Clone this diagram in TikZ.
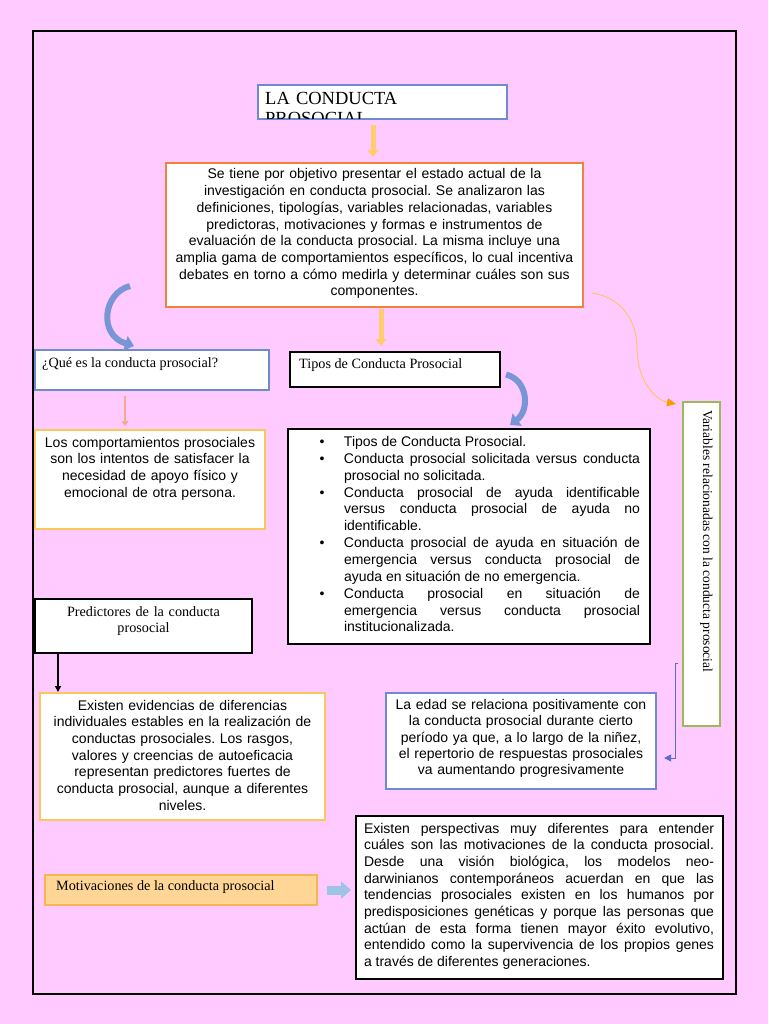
\documentclass[tikz,border=0pt]{standalone}
\usepackage{fontspec}
\newfontfamily\arial{Liberation Sans}
\newfontfamily\tnr{Liberation Serif}
\usetikzlibrary{arrows.meta,calc}
\frenchspacing
\definecolor{bgpink}{RGB}{255,202,255}
\definecolor{bluebd}{RGB}{110,140,205}
\definecolor{orangebd}{RGB}{240,130,60}
\definecolor{goldbd}{RGB}{250,200,90}
\definecolor{greenbd}{RGB}{155,187,89}
\definecolor{motfill}{RGB}{255,214,150}
\definecolor{motbd}{RGB}{248,180,80}
\definecolor{yarrc}{RGB}{255,205,110}
\definecolor{barrc}{RGB}{120,150,215}
\definecolor{sarrc}{RGB}{244,170,140}
\definecolor{thinorange}{RGB}{255,195,80}
\definecolor{linkblue}{RGB}{90,110,200}
\definecolor{lightblue}{RGB}{157,195,230}
\newcommand{\bitem}{\noindent\llap{\textbullet\hspace{19.5pt}}}
\begin{document}
\begin{tikzpicture}[x=1pt,y=-1pt,
  box/.style={draw, fill=white, line width=1.2pt, anchor=north west, inner sep=0pt, outer sep=0pt},
  sans/.style={font=\arial\frenchspacing\fontsize{14}{16.7}\selectfont, inner sep=0pt, anchor=base},
  serif/.style={font=\tnr\fontsize{14.2}{16.5}\selectfont, inner sep=0pt},
  yarr/.style={draw=yarrc, line width=5pt, -{Triangle[length=7pt,width=11pt]}},
  barr/.style={draw=barrc, line width=6pt, -{Triangle[length=9pt,width=15pt]}},
  sarr/.style={draw=sarrc, line width=2.5pt, -{Triangle[length=5pt,width=7pt]}},
  thinarr/.style={draw=thinorange, line width=0.8pt, -{Triangle[length=9pt,width=8pt,color=orange!80!yellow]}},
  linkarr/.style={draw=linkblue, line width=1pt, -{Triangle[length=7pt,width=7pt]}},
  karr/.style={draw=black, line width=1.8pt, -{Triangle[length=6pt,width=6pt]}},
  rarr/.style={draw=lightblue, line width=9pt, -{Triangle[length=10pt,width=17pt]}}
]
\fill[bgpink] (0,0) rectangle (768,1024);
\useasboundingbox (0,0) rectangle (768,1024);
\draw[line width=2pt] (33,31) rectangle (736,994);

% boxes
\node[box, draw=bluebd, minimum width=249pt, minimum height=34pt] (title) at (258,85) {};
\node[box, draw=orangebd, minimum width=417pt, minimum height=144pt] (main) at (166,163) {};
\node[box, draw=bluebd, minimum width=234pt, minimum height=40pt] (q) at (35,350) {};
\node[box, draw=black, minimum width=210pt, minimum height=35pt] (tipos) at (290,352) {};
\node[box, draw=goldbd, minimum width=230pt, minimum height=99pt] (los) at (35,430) {};
\node[box, draw=black, minimum width=362pt, minimum height=215pt] (bul) at (288,429) {};
\node[box, draw=greenbd, minimum width=37pt, minimum height=324pt] (var) at (683,402) {};
\node[box, draw=black, minimum width=217pt, minimum height=54pt] (pred) at (35,599) {};
\node[box, draw=goldbd, minimum width=285pt, minimum height=127pt] (ex) at (40,693) {};
\node[box, draw=bluebd, minimum width=270pt, minimum height=96pt] (edad) at (386,693) {};
\node[box, draw=motbd, fill=motfill, minimum width=272pt, minimum height=30pt] (mot) at (45,875) {};
\node[box, draw=black, minimum width=367pt, minimum height=163pt] (per) at (356,816) {};

% texts
\begin{scope}
\clip (title.north west) rectangle (title.south east);
\node[font=\tnr\fontsize{18.5}{20}\selectfont, inner sep=0pt, anchor=base west, text width=230pt, align=left] (titlet) at (265,105) {LA CONDUCTA\\PROSOCIAL};
\end{scope}

\node[sans, text width=412pt, align=center] (maint) at (374.5,179) {Se tiene por objetivo presentar el estado actual de la\\investigación en conducta prosocial. Se analizaron las\\definiciones, tipologías, variables relacionadas, variables\\predictoras, motivaciones y formas e instrumentos de\\evaluación de la conducta prosocial. La misma incluye una\\amplia gama de comportamientos específicos, lo cual incentiva\\debates en torno a cómo medirla y determinar cuáles son sus\\componentes.};

\node[serif, anchor=base west] (qt) at (42,367) {¿Qué es la conducta prosocial?};
\node[serif, anchor=base west] (tipost) at (299,368) {Tipos de Conducta Prosocial};

\node[sans, text width=228pt, align=center] (lost) at (150,447) {Los comportamientos prosociales\\son los intentos de satisfacer la\\necesidad de apoyo físico y\\emocional de otra persona.};

\node[font=\arial\frenchspacing\fontsize{14}{16.85}\selectfont, inner sep=0pt, anchor=base, text width=296pt, align=justify] (bult) at (492,446.5) {\tolerance=10000\hyphenpenalty=10000
\bitem Tipos de Conducta Prosocial.\par
\bitem Conducta prosocial solicitada versus conducta\linebreak prosocial no solicitada.\par
\bitem Conducta prosocial de ayuda identificable\linebreak versus conducta prosocial de ayuda no\linebreak identificable.\par
\bitem Conducta prosocial de ayuda en situación de\linebreak emergencia versus conducta prosocial de\linebreak ayuda en situación de no emergencia.\par
\bitem Conducta prosocial en situación de\linebreak emergencia versus conducta prosocial\linebreak institucionalizada.\par};

\node[font=\tnr\fontsize{13.5}{16}\selectfont, inner sep=0pt, rotate=-90, anchor=base west] (vart) at (703,410) {Variables relacionadas con la conducta prosocial};

\node[serif, anchor=base, text width=215pt, align=center] (predt) at (143.5,616) {Predictores de la conducta\\prosocial};

\node[sans, text width=283pt, align=center] (ext) at (182.5,710) {Existen evidencias de diferencias\\individuales estables en la realización de\\conductas prosociales. Los rasgos,\\valores y creencias de autoeficacia\\representan predictores fuertes de\\conducta prosocial, aunque a diferentes\\niveles.};

\node[font=\arial\frenchspacing\fontsize{14}{16.3}\selectfont, inner sep=0pt, anchor=base, text width=268pt, align=center] (edadt) at (521,709.5) {La edad se relaciona positivamente con\\la conducta prosocial durante cierto\\período ya que, a lo largo de la niñez,\\el repertorio de respuestas prosociales\\va aumentando progresivamente};

\node[serif, anchor=base west] (mott) at (56,890) {Motivaciones de la conducta prosocial};

\node[sans, text width=350pt, align=justify] (pert) at (539,833) {\tolerance=10000\hyphenpenalty=10000
Existen perspectivas muy diferentes para entender\linebreak cuáles son las motivaciones de la conducta prosocial.\linebreak Desde una visión biológica, los modelos neo-\linebreak darwinianos contemporáneos acuerdan en que las\linebreak tendencias prosociales existen en los humanos por\linebreak predisposiciones genéticas y porque las personas que\linebreak actúan de esta forma tienen mayor éxito evolutivo,\linebreak entendido como la supervivencia de los propios genes\linebreak a través de diferentes generaciones.};

% connectors
\draw[yarr] ([xshift=-9.5pt,yshift=-6pt]title.south) -- ([xshift=-1.5pt,yshift=6pt]main.north);
\draw[yarr] ([xshift=6.5pt,yshift=-2pt]main.south) -- ++(0,37);
\coordinate (c1s) at ([xshift=-36pt,yshift=21pt]main.south west);
\draw[barr] (c1s) .. controls (103,293) and (98,335) .. ([xshift=99pt,yshift=4pt]q.north west);
\draw[barr] ([xshift=6pt,yshift=-5pt]tipos.east) .. controls (528,380) and (530,410) .. ([xshift=41pt,yshift=4pt]bul.north);
\draw[sarr] ([xshift=-27pt,yshift=-6pt]q.south) -- ([xshift=-25pt,yshift=4pt]los.north);
\draw[thinarr] ([xshift=9pt,yshift=14pt]main.south east) .. controls (625,298) and (637,325) .. (637,348) .. controls (637,380) and (655,400) .. ([xshift=-7pt,yshift=-2pt]var.north west);
\draw[karr] ([xshift=-85.5pt]pred.south) -- ([xshift=-124.5pt,yshift=1pt]ex.north);
\coordinate (v1) at (678,663);
\draw[linkarr] (v1) -- ++(-3,0) |- ([xshift=8pt,yshift=-17pt]edad.east);
\draw[rarr] ([xshift=10pt]mot.east) -- ([xshift=-5pt]mot.east -| per.west);
\end{tikzpicture}
\end{document}
